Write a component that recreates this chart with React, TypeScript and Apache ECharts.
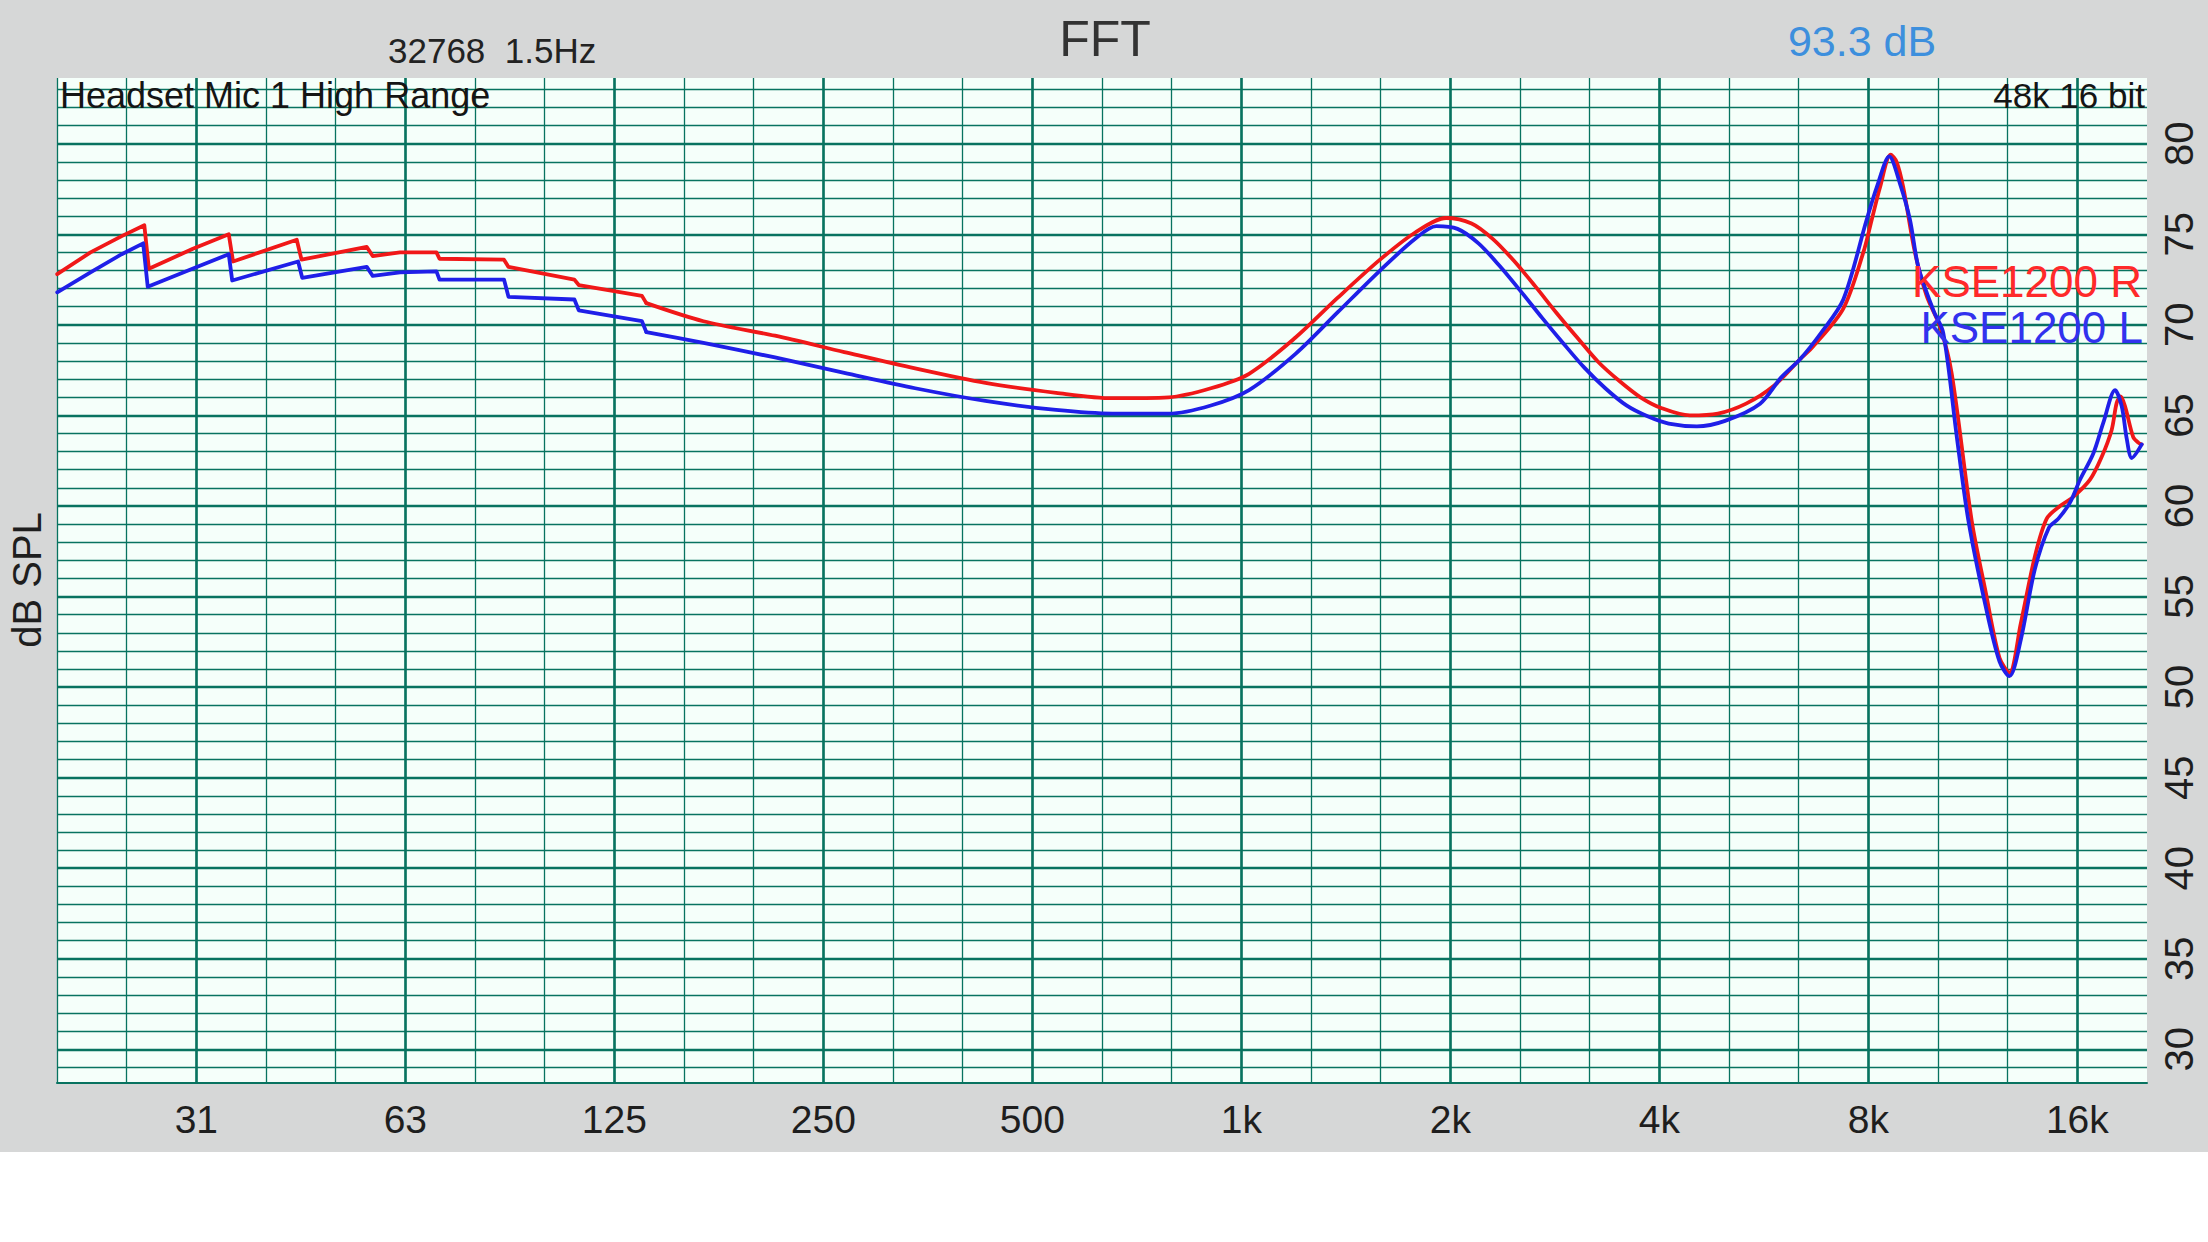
import React, { useEffect, useRef } from 'react';
import * as echarts from 'echarts';

const FONT = '"Liberation Sans", Arial, Helvetica, sans-serif';
const GRID = '#087360';

// Frequency axis: ten octaves, drawn in third-octave steps from the left edge (31.25 Hz * 2^-2/3)
const F_MIN = 19.6875;
const X_STEPS = 30;
const xTickLabels = ['31', '63', '125', '250', '500', '1k', '2k', '4k', '8k', '16k'];

// Level axis (dB SPL)
const Y_MIN = 28.14;
const Y_MAX = 83.63;
const yTickLabels = [30, 35, 40, 45, 50, 55, 60, 65, 70, 75, 80];

// Below this frequency the FFT trace is a stepped saw-tooth (drawn straight); above it is smooth
const STEP_END_HZ = 139;

// [frequency Hz, dB SPL]
const rightChannel: [number, number][] = [
  [19.7, 72.8], [22.0, 74.0], [24.4, 74.9], [26.3, 75.5], [26.7, 73.1], [30.9, 74.2], [34.8, 75.0],
  [35.3, 73.5], [43.6, 74.7], [44.3, 73.6], [55.0, 74.3], [56.1, 73.8], [61.4, 74.0], [69.3, 74.0],
  [70.0, 73.65], [86.7, 73.6], [88.0, 73.2], [109.5, 72.5], [111.1, 72.2], [137, 71.6], [139, 71.2],
  [168, 70.2], [213, 69.4], [268, 68.5], [339, 67.6], [428, 66.8], [541, 66.25], [652, 65.95], [786, 66.0],
  [904, 66.5], [1026, 67.3], [1197, 69.3], [1377, 71.5], [1584, 73.6], [1780, 75.1], [1972, 75.9],
  [2146, 75.6], [2302, 74.75], [2468, 73.55], [2648, 72.15], [2839, 70.7], [3046, 69.3], [3267, 67.95],
  [3504, 66.9], [3758, 66.0], [4031, 65.4], [4426, 65.0], [4859, 65.1], [5334, 65.65], [5856, 66.65],
  [6379, 68.1], [6660, 68.8], [7363, 70.9], [7869, 74.0], [8091, 75.8], [8317, 77.6], [8617, 79.4],
  [8787, 79.0], [8982, 77.6], [9338, 74.0], [9708, 71.6], [10149, 69.9], [10550, 67.3], [11271, 59.2],
  [11800, 55.3], [12363, 51.6], [12775, 50.8], [13263, 53.5], [13897, 57.2], [14457, 59.3], [15110, 60.0],
  [15787, 60.5], [16687, 61.45], [17343, 62.7], [17931, 64.2], [18233, 65.7], [18475, 66.05], [18743, 65.5],
  [19260, 63.8], [19582, 63.5], [19810, 63.4],
];

const leftChannel: [number, number][] = [
  [19.7, 71.8], [22.0, 72.9], [24.4, 73.9], [26.2, 74.5], [26.6, 72.1], [31.3, 73.2], [34.8, 73.9],
  [35.2, 72.45], [43.8, 73.5], [44.4, 72.6], [55.0, 73.2], [56.1, 72.7], [61.4, 72.9], [69.3, 72.95],
  [70.0, 72.5], [86.7, 72.5], [88.0, 71.55], [109.5, 71.4], [111.1, 70.8], [137, 70.2], [139, 69.6],
  [168, 69.0], [213, 68.2], [268, 67.35], [339, 66.5], [428, 65.8], [541, 65.3], [652, 65.1], [786, 65.1],
  [904, 65.55], [1026, 66.4], [1197, 68.4], [1377, 70.7], [1584, 73.0], [1780, 74.75], [1909, 75.45],
  [2048, 75.3], [2196, 74.5], [2356, 73.25], [2527, 71.85], [2710, 70.4], [2906, 69.0], [3117, 67.65],
  [3344, 66.5], [3587, 65.55], [3847, 64.95], [4126, 64.55], [4531, 64.4], [4974, 64.7], [5588, 65.65],
  [5994, 67.1], [6379, 68.1], [6837, 69.55], [7363, 71.4], [7956, 75.8], [8228, 77.6], [8576, 79.3],
  [8885, 77.8], [9186, 75.8], [9443, 73.2], [9927, 70.8], [10258, 69.55], [10730, 63.8], [11148, 59.2],
  [11800, 54.5], [12363, 51.4], [12775, 50.6], [13263, 52.6], [13897, 56.5], [14560, 58.8], [15027, 59.3],
  [15622, 60.2], [16144, 61.45], [16872, 62.9], [17443, 64.6], [18132, 66.4], [18540, 65.5], [18851, 63.7],
  [19168, 62.65], [19810, 63.4],
];

const toStep = (f: number) => 3 * Math.log2(f / F_MIN);

function traceSeries(name: string, pts: [number, number][], color: string, z: number) {
  const stepped = pts.filter(([f]) => f <= STEP_END_HZ).map(([f, d]) => [toStep(f), d]);
  const smoothPart = pts.filter(([f]) => f >= STEP_END_HZ).map(([f, d]) => [toStep(f), d]);
  const base = {
    type: 'line', name, z, symbol: 'none', showSymbol: false,
    itemStyle: { color },
    lineStyle: { color, width: 3.8, cap: 'round', join: 'round' },
    emphasis: { disabled: true },
  };
  return [
    { ...base, data: stepped, smooth: false },
    { ...base, data: smoothPart, smooth: 0.3 },
  ];
}

function buildOption() {
  const hLines: any[] = [];
  for (let v = Math.ceil(Y_MIN); v <= Math.floor(Y_MAX); v++) {
    hLines.push({ yAxis: v, lineStyle: { width: v % 5 === 0 ? 2.4 : 1.3, color: GRID, type: 'solid' } });
  }
  const vLines: any[] = [];
  for (let k = 2; k < X_STEPS; k += 3) {
    vLines.push({ xAxis: k, lineStyle: { width: 2.6, color: GRID, type: 'solid' } });
  }

  const text = (o: any) => ({ type: 'text', z: 100, silent: true, ...o });

  const red = traceSeries('KSE1200 R', rightChannel, '#f01818', 10);
  const blue = traceSeries('KSE1200 L', leftChannel, '#1f1fe8', 11);
  (red[0] as any).markLine = {
    silent: true, symbol: ['none', 'none'], label: { show: false },
    emphasis: { disabled: true },
    data: [...hLines, ...vLines],
  };

  return {
    animation: false,
    backgroundColor: '#d6d7d7',
    textStyle: { fontFamily: FONT },
    grid: {
      left: 57, right: 61, top: 78, bottom: 69,
      show: true, backgroundColor: '#f5fffa', borderWidth: 0,
    },
    xAxis: {
      type: 'value', min: 0, max: X_STEPS, interval: 1,
      axisLine: { show: true, lineStyle: { color: GRID, width: 2 } },
      axisTick: { show: false },
      splitLine: { show: true, showMaxLine: false, lineStyle: { color: GRID, width: 1.3 } },
      axisLabel: {
        show: true, margin: 16, fontSize: 39, lineHeight: 40, color: '#1e1e1e', fontFamily: FONT,
        showMinLabel: true, showMaxLabel: true,
        formatter: (v: number) => {
          const k = Math.round(v);
          if (k >= 2 && (k - 2) % 3 === 0) return xTickLabels[(k - 2) / 3] ?? '';
          return '';
        },
      },
    },
    yAxis: {
      type: 'value', min: Y_MIN, max: Y_MAX, position: 'right',
      axisLine: { show: false }, axisTick: { show: false }, splitLine: { show: false },
      axisLabel: {
        show: true, customValues: yTickLabels, rotate: 90, margin: 12,
        fontSize: 40, lineHeight: 40, color: '#1e1e1e', fontFamily: FONT,
      },
    },
    graphic: [
      text({ left: 388, top: 33, style: { text: '32768  1.5Hz', font: `35px ${FONT}`, fill: '#222' } }),
      text({ x: 1105, y: 39, style: { text: 'FFT', font: `50px ${FONT}`, fill: '#333', align: 'center', verticalAlign: 'middle' } }),
      text({ x: 1862, y: 41, style: { text: '93.3 dB', font: `43px ${FONT}`, fill: '#3d8fdd', align: 'center', verticalAlign: 'middle' } }),
      text({ x: 60, y: 95, style: { text: 'Headset Mic 1 High Range', font: `36px ${FONT}`, fill: '#151515', align: 'left', verticalAlign: 'middle' } }),
      text({ x: 2145, y: 95, style: { text: '48k 16 bit', font: `35px ${FONT}`, fill: '#151515', align: 'right', verticalAlign: 'middle' } }),
      text({ x: 2142, y: 281, style: { text: 'KSE1200 R', font: `44px ${FONT}`, fill: '#ff2a2a', align: 'right', verticalAlign: 'middle' } }),
      text({ x: 2143, y: 327, style: { text: 'KSE1200 L', font: `44px ${FONT}`, fill: '#3232ee', align: 'right', verticalAlign: 'middle' } }),
      text({ x: 27, y: 580, rotation: Math.PI / 2, style: { text: 'dB SPL', font: `40px ${FONT}`, fill: '#1e1e1e', align: 'center', verticalAlign: 'middle' } }),
    ],
    series: [...red, ...blue],
  };
}

export default function App() {
  const ref = useRef<HTMLDivElement>(null);
  useEffect(() => {
    if (!ref.current) return;
    const chart = echarts.init(ref.current, null, { renderer: 'svg' });
    chart.setOption(buildOption() as any);
    return () => chart.dispose();
  }, []);
  return (
    <div style={{ position: 'absolute', left: 0, top: 0, width: 2208, height: 1242, background: '#ffffff' }}>
      <div ref={ref} style={{ width: 2208, height: 1152 }} />
    </div>
  );
}
